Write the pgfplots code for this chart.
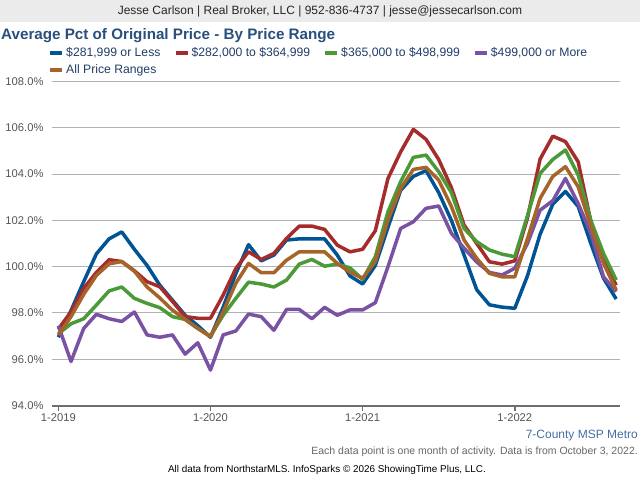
\documentclass[border=0pt]{standalone}
\usepackage{pgfplots}
\usepackage{pgfplotstable}
\pgfplotsset{compat=1.18}
\usepackage{fontspec}
\setmainfont{Liberation Sans}

\definecolor{lowblue}{RGB}{0,84,147}
\definecolor{midred}{RGB}{166,43,43}
\definecolor{upgreen}{RGB}{75,154,56}
\definecolor{toppurple}{RGB}{122,82,164}
\definecolor{allbrown}{RGB}{166,100,40}
\definecolor{headergray}{RGB}{235,235,235}
\definecolor{titleblue}{RGB}{41,79,125}
\definecolor{legendblue}{RGB}{32,62,104}
\definecolor{metroblue}{RGB}{70,110,165}
\definecolor{ticktext}{RGB}{85,85,85}
\definecolor{axisgray}{RGB}{110,110,110}

% Monthly average percent of original list price, Jan 2019 (m=0) to Sep 2022 (m=44)
\pgfplotstableread{
m   low     mid     up      top     all
0   96.95   97.30   97.10   97.45   97.05
1   98.10   98.05   97.53   95.90   97.84
2   99.35   99.06   97.75   97.33   98.80
3   100.55  99.75   98.34   97.94   99.62
4   101.20  100.30  98.95   97.75   100.12
5   101.50  100.22  99.12   97.63   100.22
6   100.75  99.82   98.63   98.04   99.80
7   100.05  99.35   98.41   97.05   99.12
8   99.20   99.13   98.23   96.95   98.65
9   98.55   98.50   97.84   97.05   98.12
10  97.90   97.84   97.72   96.22   97.72
11  97.45   97.77   97.33   96.71   97.33
12  96.95   97.77   97.00   95.53   96.97
13  98.25   98.77   97.90   97.05   98.05
14  99.70   99.92   98.63   97.22   99.28
15  100.95  100.64  99.33   97.95   100.14
16  100.25  100.31  99.25   97.84   99.74
17  100.50  100.57  99.12   97.25   99.74
18  101.15  101.22  99.42   98.15   100.28
19  101.20  101.75  100.11  98.15   100.64
20  101.20  101.75  100.31  97.75   100.64
21  101.20  101.61  100.02  98.24   100.64
22  100.50  100.93  100.11  97.90   100.14
23  99.60   100.64  99.95   98.13   99.76
24  99.25   100.75  99.45   98.13   99.50
25  100.05  101.55  100.43  98.44   100.21
26  101.70  103.81  102.37  100.00  102.01
27  103.30  104.96  103.67  101.65  103.38
28  103.90  105.93  104.72  101.94  104.20
29  104.15  105.50  104.82  102.52  104.29
30  103.20  104.63  104.10  102.62  103.74
31  102.00  103.42  103.20  101.44  102.60
32  100.50  101.80  101.65  100.80  101.15
33  99.00   101.00  101.08  100.20  100.36
34  98.35   100.21  100.72  99.75   99.71
35  98.25   100.11  100.54  99.64   99.56
36  98.20   100.25  100.43  99.93   99.56
37  99.60   102.10  102.20  101.00  101.20
38  101.40  104.65  104.03  102.44  102.95
39  102.70  105.64  104.63  102.85  103.90
40  103.25  105.40  105.04  103.81  104.32
41  102.60  104.53  103.96  102.73  103.45
42  101.00  101.95  102.00  101.44  101.75
43  99.50   100.30  100.57  99.56   100.14
44  98.60   99.20   99.42   98.92   98.99
}\pricedata

\begin{document}
\begin{tikzpicture}
\path[use as bounding box] (0pt,0pt) rectangle (640pt,480pt);
% header strip
\fill[headergray] (0pt,458pt) rectangle (640pt,480pt);
\node[font=\fontsize{12}{14}\selectfont, text=black!85] at (320pt,469pt)
  {Jesse Carlson | Real Broker, LLC | 952-836-4737 | jesse@jessecarlson.com};
\node[anchor=west, font=\fontsize{15.2}{18}\selectfont\bfseries, text=titleblue, inner sep=0pt] at (1pt,444pt)
  {Average Pct of Original Price - By Price Range};

\begin{axis}[
  at={(52pt,74.5pt)}, anchor=south west,
  scale only axis, width=568pt, height=324pt,
  xmin=-0.5, xmax=44.3, ymin=94, ymax=108,
  axis lines*=left,
  x axis line style={draw=axisgray, line width=2pt, -},
  y axis line style={draw=none},
  xtick={0,12,24,36},
  xticklabels={1-2019,1-2020,1-2021,1-2022},
  ytick={94,96,98,100,102,104,106,108},
  yticklabels={94.0\%,96.0\%,98.0\%,100.0\%,102.0\%,104.0\%,106.0\%,108.0\%},
  tick align=outside,
  major tick length=5pt,
  xtick style={draw=axisgray, line width=1.5pt},
  ytick style={draw=none},
  ymajorgrids,
  grid style={draw=black!30, line width=0.9pt},
  tick label style={font=\fontsize{11.2}{13}\selectfont, text=ticktext},
  /pgf/number format/assume math mode=true,
  clip=false,
  legend columns=4,
  legend cell align=left,
  legend image code/.code={\draw[line width=4pt] (0pt,0pt) -- (12pt,0pt);},
  legend style={
    at={(-0.007,1.112)}, anchor=north west,
    draw=none, fill=none, inner sep=0pt,
    font=\fontsize{12.2}{14}\selectfont, text=legendblue,
    nodes={inner sep=2pt},
    row sep=2.5pt,
    /tikz/every even column/.append style={column sep=11pt},
  },
  every axis plot/.append style={line width=3.5pt, line join=round, mark=none},
]
\addplot[lowblue]    table[x=m, y=low]  {\pricedata};
\addlegendentry{\$281,999 or Less}
\addplot[midred]     table[x=m, y=mid]  {\pricedata};
\addlegendentry{\$282,000 to \$364,999}
\addplot[upgreen]    table[x=m, y=up]   {\pricedata};
\addlegendentry{\$365,000 to \$498,999}
\addplot[toppurple]  table[x=m, y=top]  {\pricedata};
\addlegendentry{\$499,000 or More}
\addplot[allbrown]   table[x=m, y=all]  {\pricedata};
\addlegendentry{All Price Ranges}
\end{axis}

\node[anchor=east, font=\fontsize{12}{14}\selectfont, text=metroblue, inner sep=0pt] at (638pt,44pt)
  {7-County MSP Metro};
\node[anchor=east, font=\fontsize{10.5}{12}\selectfont, text=black!60, inner sep=0pt] at (638pt,28pt)
  {Each data point is one month of activity. Data is from October 3, 2022.};
\node[font=\fontsize{9.9}{11}\selectfont, text=black, inner sep=0pt] at (327pt,10pt)
  {All data from NorthstarMLS. InfoSparks © 2026 ShowingTime Plus, LLC.};
\end{tikzpicture}
\end{document}
